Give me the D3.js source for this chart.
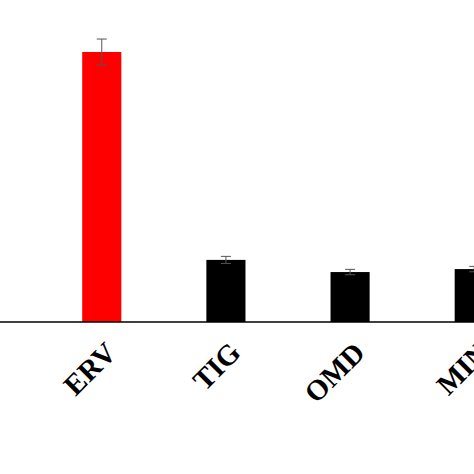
<html>
<head>
<script src="https://cdn.jsdelivr.net/npm/d3@7"></script>
<style>body{margin:0;background:#fff}</style>
</head>
<body>
<script>
const categories = ["ERV", "TIG", "OMD", "MIN"];
const values = [100, 23, 18.5, 19.6];
const errors = [4.8, 1.3, 1, 1];
const colors = ["#ff0000", "#000000", "#000000", "#000000"];

const width = 474, height = 474;
const svg = d3.select("body").append("svg")
  .attr("width", width).attr("height", height);

const x = d3.scaleBand().domain(categories)
  .range([40, 536]).paddingInner(0.685).paddingOuter(0.34);
const y = d3.scaleLinear().domain([0, 100]).range([322, 52]);

// bars
svg.selectAll("rect.bar").data(categories).join("rect")
  .attr("x", d => x(d)).attr("width", x.bandwidth())
  .attr("y", (d, i) => y(values[i]))
  .attr("height", (d, i) => y(0) - y(values[i]))
  .attr("fill", (d, i) => colors[i]);

// error bars
const eb = svg.selectAll("g.err").data(categories).join("g")
  .attr("stroke", "#555").attr("stroke-width", 1);
eb.append("line")
  .attr("x1", d => x(d) + x.bandwidth() / 2).attr("x2", d => x(d) + x.bandwidth() / 2)
  .attr("y1", (d, i) => y(values[i] + errors[i])).attr("y2", (d, i) => y(values[i] - errors[i]));
[1, -1].forEach(s => eb.append("line")
  .attr("x1", d => x(d) + x.bandwidth() / 2 - 5).attr("x2", d => x(d) + x.bandwidth() / 2 + 5)
  .attr("y1", (d, i) => y(values[i] + s * errors[i])).attr("y2", (d, i) => y(values[i] + s * errors[i])));

// baseline
svg.append("line").attr("x1", 0).attr("x2", width)
  .attr("y1", y(0)).attr("y2", y(0)).attr("stroke", "#000").attr("stroke-width", 1.5);

// labels
svg.selectAll("text.lab").data(categories).join("text")
  .attr("transform", d => `translate(${x(d) + x.bandwidth() / 2 + 2},340) rotate(-45)`)
  .attr("text-anchor", "end").attr("dy", "0.7em")
  .style("font-family", "'Liberation Serif', serif")
  .style("font-weight", "bold").style("font-size", "29px")
  .text(d => d);
</script>
</body>
</html>
